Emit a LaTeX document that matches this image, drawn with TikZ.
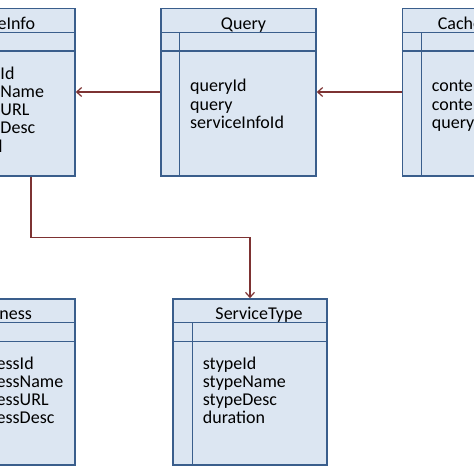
\documentclass[tikz,border=0pt]{standalone}
\usepackage{fontspec}
\setmainfont{Carlito}
\usetikzlibrary{arrows.meta}

\definecolor{boxfill}{RGB}{220,230,242}
\definecolor{boxline}{RGB}{58,94,140}
\definecolor{linkred}{RGB}{125,50,50}

\begin{document}
\begin{tikzpicture}[
        x=1pt, y=-1pt,
        classbox/.style={draw=boxline, line width=1.6pt, fill=boxfill, inner sep=0pt},
        part/.style={boxline, line width=1.3pt},
        title/.style={anchor=base, inner sep=0pt, font=\fontsize{18}{18.3}\selectfont},
        attrs/.style={anchor=base west, align=left, inner sep=0pt, font=\fontsize{18}{18.3}\selectfont},
        link/.style={linkred, line width=1.2pt, -{Straight Barb[length=5pt,width=9pt]}}
    ]
    \useasboundingbox (0,0) rectangle (474,474);

    % top row
    \node[classbox, minimum width=153pt, minimum height=167.4pt] (info) at (-1.5,92) {};
    \node[classbox, minimum width=155pt, minimum height=167.4pt] (query) at (238.5,92) {};
    \node[classbox, minimum width=155pt, minimum height=167.4pt] (cache) at (480,92) {};

    % bottom row
    \node[classbox, minimum width=155pt, minimum height=166pt] (busi) at (-2.5,382) {};
    \node[classbox, minimum width=154pt, minimum height=166pt] (stype) at (250,382) {};

    \draw[part] ([yshift=-25pt]info.north west) -- ([yshift=-25pt]info.north east);
    \draw[part] ([yshift=-43.4pt]info.north west) -- ([yshift=-43.4pt]info.north east);
    \draw[part] ([shift={(19.5pt,-25pt)}]info.north west) -- ([xshift=19.5pt]info.south west);

    \draw[part] ([yshift=-25pt]query.north west) -- ([yshift=-25pt]query.north east);
    \draw[part] ([yshift=-43.4pt]query.north west) -- ([yshift=-43.4pt]query.north east);
    \draw[part] ([shift={(19.5pt,-25pt)}]query.north west) -- ([xshift=19.5pt]query.south west);

    \draw[part] ([yshift=-25pt]cache.north west) -- ([yshift=-25pt]cache.north east);
    \draw[part] ([yshift=-43.4pt]cache.north west) -- ([yshift=-43.4pt]cache.north east);
    \draw[part] ([shift={(19.5pt,-25pt)}]cache.north west) -- ([xshift=19.5pt]cache.south west);

    \draw[part] ([yshift=-24.5pt]busi.north west) -- ([yshift=-24.5pt]busi.north east);
    \draw[part] ([yshift=-43.3pt]busi.north west) -- ([yshift=-43.3pt]busi.north east);
    \draw[part] ([shift={(20pt,-24.5pt)}]busi.north west) -- ([xshift=20pt]busi.south west);

    \draw[part] ([yshift=-24.5pt]stype.north west) -- ([yshift=-24.5pt]stype.north east);
    \draw[part] ([yshift=-43.3pt]stype.north west) -- ([yshift=-43.3pt]stype.north east);
    \draw[part] ([shift={(20pt,-24.5pt)}]stype.north west) -- ([xshift=20pt]stype.south west);

    \node[title] (infoT) at (-5.5,29.3) {ServiceInfo};
    \node[title] (queryT) at (243.5,29.3) {Query};
    \node[title, anchor=base west] (cacheT) at (437.7,29.3) {Cache};
    \node[title] (busiT) at (0.5,319.3) {Business};
    \node[title] (stypeT) at (259,319.3) {ServiceType};

    % base = baseline of the last line
    \node[attrs] (infoA) at (-51,152.2) {serviceId\\serviceName\\serviceURL\\serviceDesc\\stypeId};
    \node[attrs] (queryA) at (190,128.3) {queryId\\query\\serviceInfoId};
    \node[attrs] (cacheA) at (431.7,128.3) {contentId\\content\\queryId};
    \node[attrs] (busiA) at (-43,423.9) {businessId\\businessName\\businessURL\\businessDesc};
    \node[attrs] (stypeA) at (202.7,423.9) {stypeId\\stypeName\\stypeDesc\\duration};

    \draw[link] (query.west) -- (info.east);
    \draw[link] (cache.west) -- (query.east);
    \draw[link] ([xshift=32.5pt]info.south) -- ++(0,61) -| (stype.north);
\end{tikzpicture}
\end{document}
